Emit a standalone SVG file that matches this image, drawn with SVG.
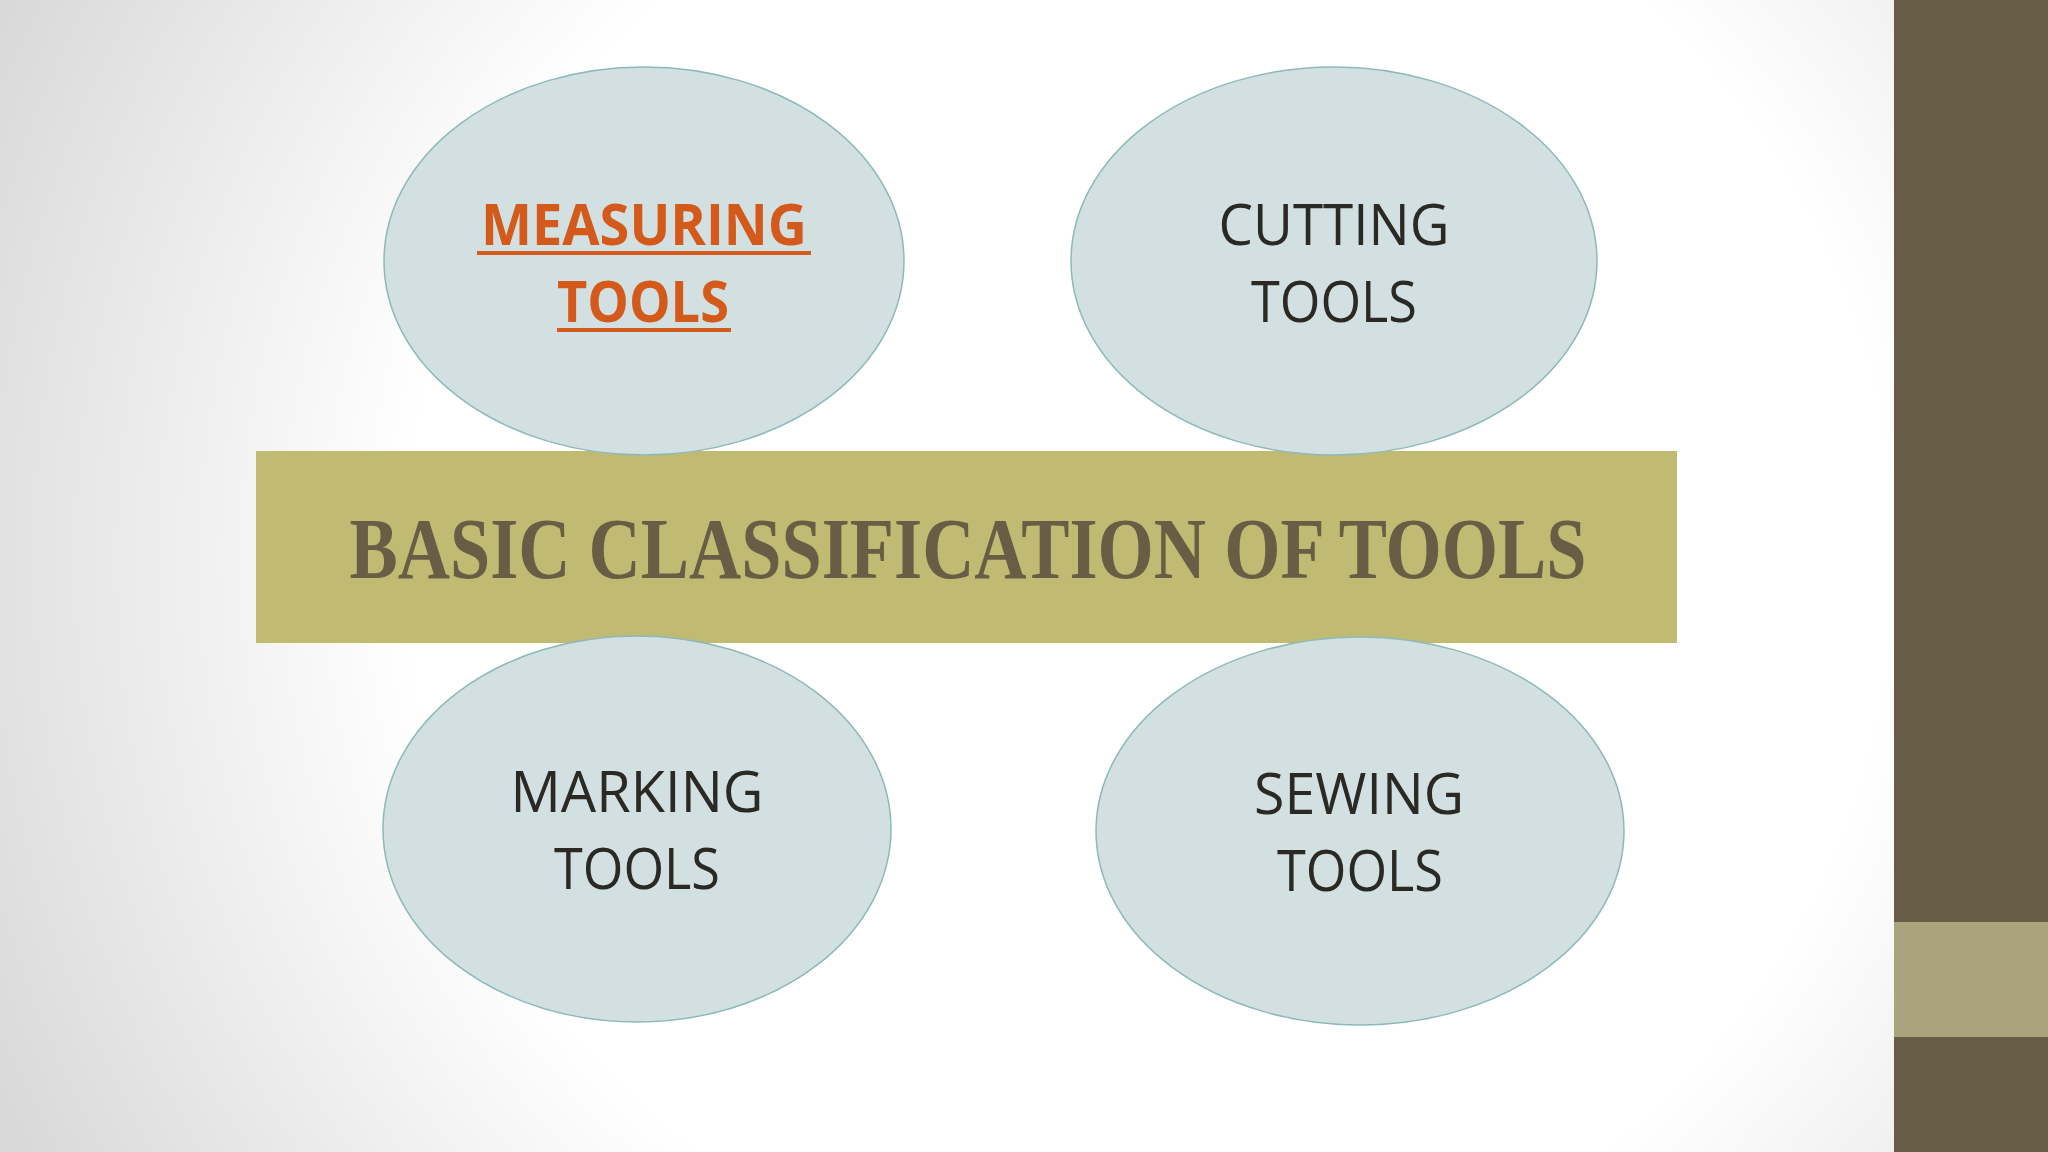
<svg xmlns="http://www.w3.org/2000/svg" width="2048" height="1152" viewBox="0 0 2048 1152">
  <defs>
    <radialGradient id="bg" cx="1150" cy="560" r="1280" gradientUnits="userSpaceOnUse">
      <stop offset="0" stop-color="#ffffff"/>
      <stop offset="0.58" stop-color="#ffffff"/>
      <stop offset="1" stop-color="#d8d8d8"/>
    </radialGradient>
    <style>
      .node { fill: #d2e0e1; stroke: #8db9b9; stroke-width: 1.5; }
      .lbl { font-family: "Open Sans", "Liberation Sans", sans-serif; font-size: 57px; fill: #2a2924; text-anchor: middle; }
      .hl { fill: #d35a1b; font-weight: 700; }
      .ul { stroke: #d35a1b; stroke-width: 4; }
      .title { font-family: "Liberation Serif", "DejaVu Serif", serif; font-weight: 700; font-size: 86px; fill: #6a5d45; text-anchor: middle; }
    </style>
  </defs>

  <rect x="0" y="0" width="2048" height="1152" fill="url(#bg)"/>

  <g id="sidebar">
    <rect x="1894" y="0" width="154" height="1152" fill="#675c45"/>
    <rect x="1894" y="922" width="154" height="115" fill="#a9a47b"/>
  </g>

  <g id="banner">
    <rect x="256" y="451" width="1421" height="192" fill="#c0ba72"/>
    <text class="title" x="968" y="578" textLength="1237" lengthAdjust="spacingAndGlyphs">BASIC CLASSIFICATION OF TOOLS</text>
  </g>

  <g id="connectors"></g>

  <g id="measuring">
    <ellipse class="node" cx="644" cy="261" rx="260" ry="194"/>
    <text class="lbl hl" x="644" y="245" textLength="326" lengthAdjust="spacingAndGlyphs">MEASURING</text>
    <line class="ul" x1="477" y1="253" x2="811" y2="253"/>
    <text class="lbl hl" x="643" y="322" textLength="172" lengthAdjust="spacingAndGlyphs">TOOLS</text>
    <line class="ul" x1="557" y1="330" x2="731" y2="330"/>
  </g>

  <g id="cutting">
    <ellipse class="node" cx="1334" cy="261" rx="263" ry="194"/>
    <text class="lbl" x="1334" y="245" textLength="231" lengthAdjust="spacingAndGlyphs">CUTTING</text>
    <text class="lbl" x="1334" y="322" textLength="166" lengthAdjust="spacingAndGlyphs">TOOLS</text>
  </g>

  <g id="marking">
    <ellipse class="node" cx="637" cy="829" rx="254" ry="193"/>
    <text class="lbl" x="637" y="812" textLength="253" lengthAdjust="spacingAndGlyphs">MARKING</text>
    <text class="lbl" x="637" y="889" textLength="166" lengthAdjust="spacingAndGlyphs">TOOLS</text>
  </g>

  <g id="sewing">
    <ellipse class="node" cx="1360" cy="831" rx="264" ry="194"/>
    <text class="lbl" x="1359" y="814" textLength="210" lengthAdjust="spacingAndGlyphs">SEWING</text>
    <text class="lbl" x="1360" y="891" textLength="166" lengthAdjust="spacingAndGlyphs">TOOLS</text>
  </g>
</svg>
